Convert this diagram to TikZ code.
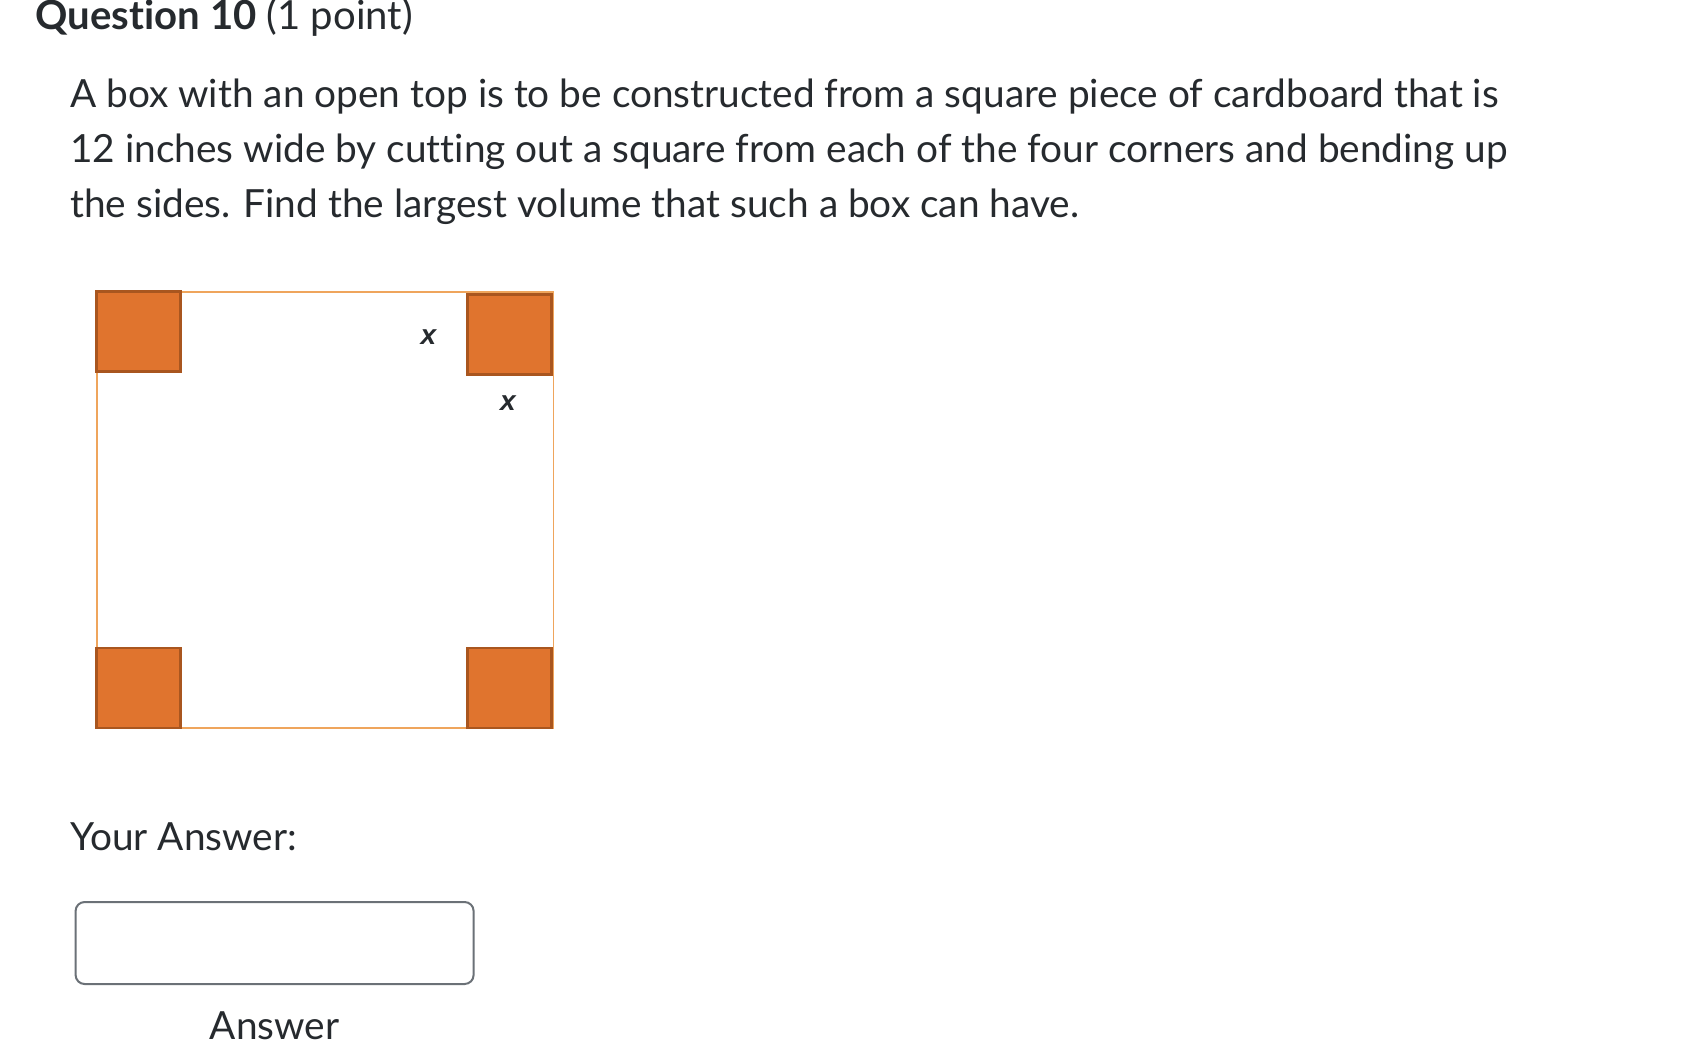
\documentclass[tikz,border=0pt]{standalone}
\usepackage{fontspec}
\setmainfont{Lato}[Ligatures={NoCommon}]
\newfontfamily\labelfont{Liberation Sans}
\definecolor{txt}{HTML}{262A2E}
\definecolor{cutfill}{HTML}{E0742E}
\definecolor{cutdraw}{HTML}{A9561F}
\definecolor{sheet}{HTML}{EFA55C}
\definecolor{boxgray}{HTML}{6B7177}
\tikzset{
  body/.style={anchor=base west, inner sep=0pt, text=txt, font=\fontsize{38.8}{46}\selectfont},
  cutsq/.style={draw=cutdraw, fill=cutfill, line width=2.6pt, inner sep=0pt, minimum width=84pt, minimum height=80pt},
  xlab/.style={inner sep=0pt, text=txt, font=\labelfont\bfseries\itshape\fontsize{28}{30}\selectfont},
  ansbox/.style={draw=boxgray, line width=2pt, rounded corners=9pt, minimum width=398pt, minimum height=82pt, inner sep=0pt}
}
\begin{document}
\begin{tikzpicture}[x=1pt,y=-1pt]
\useasboundingbox[fill=white] (0,0) rectangle (1688,1056);
% title
\node[anchor=base west, inner sep=0pt, text=txt, font=\fontsize{40.1}{46}\selectfont] (title) at (35.5,30) {\textbf{Question 10} (1 point)};
% question text
\node[body] (l1) at (70,107.2) {A box with an open top is to be constructed from a square piece of cardboard that is};
\node[body] (l2) at (70,162.2) {12 inches wide by cutting out a square from each of the four corners and bending up};
\node[body] (l3) at (70,217.2) {the sides. Find the largest volume that such a box can have.};
% diagram
\draw[draw=sheet, line width=1.6pt] (97,292) rectangle (553.5,728);
\node[cutsq] (tl) at (138.3,331.7) {};
\node[cutsq] (tr) at (509.7,334.3) {};
\node[cutsq] (bl) at (138.3,688) {};
\node[cutsq] (br) at (509.5,687.9) {};
\node[xlab] (x1) at (428.5,337) {x};
\node[xlab] (x2) at (508,403) {x};
% answer
\node[body] (ya) at (70,850.7) {Your Answer:};
\node[ansbox] (box) at (274.6,943) {};
\node[anchor=base, inner sep=0pt, text=txt, font=\fontsize{38.8}{46}\selectfont] (ans) at (274.6,1039.5) {Answer};
\end{tikzpicture}
\end{document}
